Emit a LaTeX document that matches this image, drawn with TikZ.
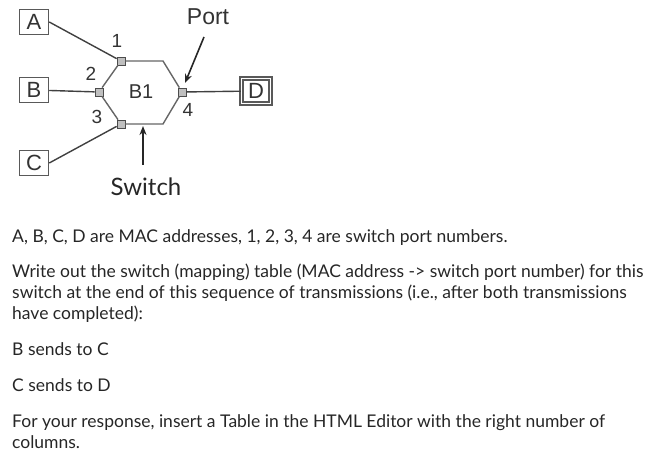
\documentclass[tikz,border=0pt]{standalone}
\usetikzlibrary{arrows.meta}
\usepackage{fontspec}
\setmainfont{Lato}
\newfontfamily\arial{Liberation Sans}
\begin{document}
\begin{tikzpicture}[x=1pt,y=-1pt,
  host/.style={draw=gray!70!black,line width=1.5pt,minimum width=29pt,minimum height=25pt,inner sep=0pt,font=\arial\fontsize{22}{22}\selectfont,text=black!80},
  port/.style={draw=gray!60!black,fill=gray!50,line width=0.8pt,minimum size=8pt,inner sep=0pt},
  lnk/.style={draw=gray!50!black,line width=1.4pt},
  lbl/.style={font=\arial\fontsize{19}{19}\selectfont,inner sep=0pt,text=black!80},
  body/.style={anchor=base west,inner sep=0pt,font=\fontsize{17.5}{18}\selectfont,text=black!85}]
\useasboundingbox (0,0) rectangle (650,473);
\node[host] (A) at (34,22) {A};
\node[host] (B) at (34,90) {B};
\node[host] (C) at (34,163) {C};
\node[host,double,double distance=1.4pt] (D) at (256,91) {D};
\coordinate (h1) at (163,61);
\coordinate (h2) at (163,124);
\node[port] (p1) at (121,61) {};
\node[port] (p2) at (99,92) {};
\node[port] (p3) at (121,124) {};
\node[port] (p4) at (182,92) {};
\draw[lnk,draw=gray!80!black] (p1) -- (h1) -- (p4) -- (h2) -- (p3) -- (p2) -- (p1);
\draw[lnk] (A.east) -- (p1);
\draw[lnk] (B) -- (p2);
\draw[lnk] (C.east) -- (p3);
\draw[lnk] (p4) -- (D);
\node[lbl] (l1) at (117,41) {1};
\node[lbl] (l2) at (91,74) {2};
\node[lbl] (l3) at (97,117) {3};
\node[lbl] (l4) at (188,110) {4};
\node[lbl,font=\arial\fontsize{20}{20}\selectfont] (b1) at (141,92) {B1};
\node[lbl,font=\arial\fontsize{23}{23}\selectfont] (portl) at (208,17) {Port};
\node[inner sep=0pt,font=\fontsize{24}{24}\selectfont,text=black!85] (sw) at (146,187) {Switch};
\coordinate (pa) at (204,37);
\coordinate (pb) at (185,83);
\coordinate (sa) at (143,165);
\coordinate (sb) at (143,126);
\draw[-{Stealth[length=9pt,width=7pt]},line width=1.6pt,black!85] (pa) -- (pb);
\draw[-{Stealth[length=9pt,width=7pt]},line width=1.6pt,black!85] (sa) -- (sb);
\node[body] (t1) at (12,242) {A, B, C, D are MAC addresses, 1, 2, 3, 4 are switch port numbers.};
\node[body] (t2) at (12,277) {Write out the switch (mapping) table (MAC address -> switch port number) for this};
\node[body] (t3) at (12,298) {switch at the end of this sequence of transmissions (i.e., after both transmissions};
\node[body] (t4) at (12,319) {have completed):};
\node[body] (t5) at (12,355) {B sends to C};
\node[body] (t6) at (12,391) {C sends to D};
\node[body] (t7) at (12,427) {For your response, insert a Table in the HTML Editor with the right number of};
\node[body] (t8) at (12,448) {columns.};
\end{tikzpicture}
\end{document}
